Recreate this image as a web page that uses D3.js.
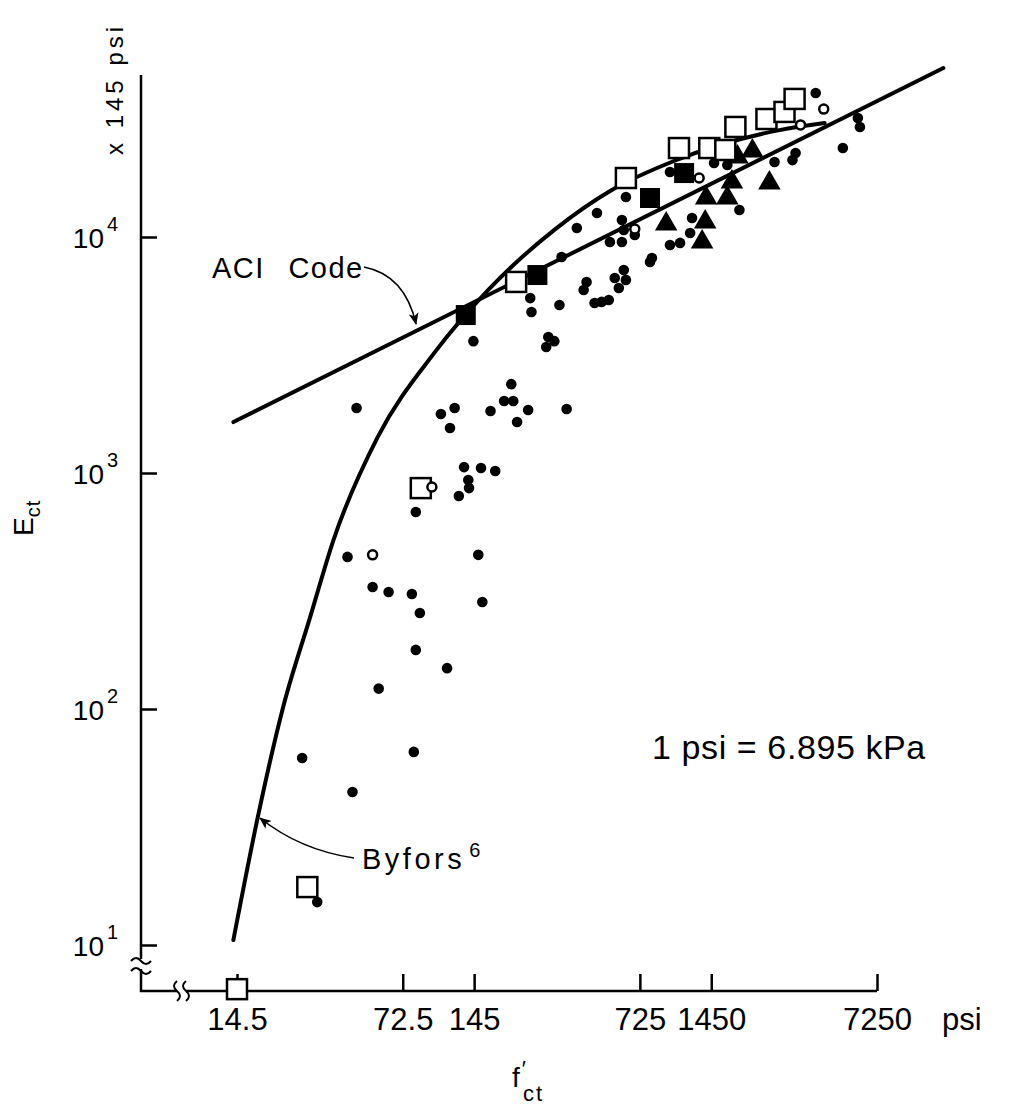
<!DOCTYPE html>
<html lang="en">
<head>
  <meta charset="UTF-8">
  <title>Ect vs f'ct</title>
  <style>
    html, body {
      margin: 0;
      padding: 0;
      background-color: #fff;
    }

    svg {
      display: block;
      font-family: "Liberation Sans", Arial, sans-serif;
    }

    .curve {
      fill: none;
      stroke: #000;
      stroke-width: 4;
      stroke-linecap: round;
    }

    .axis-line {
      fill: none;
      stroke: #000;
      stroke-width: 2.5;
    }

    .break-mark {
      fill: none;
      stroke: #000;
      stroke-width: 2;
    }

    .tick line {
      stroke: #000;
      stroke-width: 2.5;
    }

    .leader {
      fill: none;
      stroke: #000;
      stroke-width: 1.6;
    }

    .open {
      fill: #fff;
      stroke: #000;
      stroke-width: 2.5;
    }
  </style>
</head>
<body>
  <script src="https://cdn.jsdelivr.net/npm/d3@7"></script>
  <script>
    const width = 1012,
          height = 1112

    // tick values, f'ct in psi and Ect in units of 145 psi
    const xTicks = [14.5, 72.5, 145, 725, 1450, 7250]
    const xTickLabels = ['14.5', '72.5', '145', '725', '1450', '7250']
    const yTicks = [10, 100, 1000, 10000]
    const yTickExponents = ['1', '2', '3', '4']

    // [f'ct, Ect]
    const filledDots = [
      [42.4, 441], [151, 450], [54.1, 329], [63.2, 313], [79.2, 307], [85.6, 255], [157, 284],
      [82.3, 178], [111.5, 149], [57.4, 122], [27.3, 62], [80.7, 65.8], [44.5, 44.5], [31.6, 15.2],
      [144, 3620], [298, 3770], [316, 3620], [292, 3420], [208, 2380], [194, 2020], [212, 2020],
      [46.3, 1885], [105, 1778], [120, 1885], [114.7, 1552], [170, 1832], [245, 1849], [220, 1644],
      [356, 1866], [131.5, 1059], [155, 1050], [178, 1019], [137, 933], [138, 863], [125, 799], [82.3, 684],
      [250, 5510], [253, 4810], [332, 5150], [339, 8230], [432, 6450], [420, 5960], [467, 5250],
      [500, 5310], [536, 5410], [568, 6700], [591, 6080], [542, 9530],
      [393, 10910], [478, 12640], [633, 14770], [609, 11810], [620, 10700], [690, 10190], [609, 9530],
      [800, 7830], [620, 7250], [633, 6580],
      [971, 9250], [1071, 9440], [1181, 10400], [1203, 12040], [815, 8150], [1906, 13010],
      [3998, 40740], [5203, 23820], [6143, 29260], [6020, 31940], [3288, 22700], [3190, 21180],
      [1490, 20590], [1695, 20180], [971, 18860], [2680, 20790]
    ]

    const openSquares = [
      [14.5, 6.5], [28.7, 17.6], [86.4, 863], [218, 6450], [633, 17780], [1060, 23820],
      [1422, 23820], [1662, 23370], [1833, 29260], [2478, 31620], [2953, 33880], [3257, 38460]
    ]

    const filledSquares = [[133.7, 4670], [268, 6900], [800, 14630], [1114, 18660]]

    const openCircles = [[54.1, 450], [96.2, 872], [1289, 17780], [4322, 34840], [3450, 29850], [690, 10800]]

    const triangles = [
      [936, 11350], [1380, 14630], [1695, 14630], [1367, 11580], [1327, 9530],
      [1772, 17100], [1870, 21830], [2163, 23150], [2550, 16940]
    ]

    const aciCode = [[14.0, 1644], [13810, 52000]]

    const byfors = [
      [14.0, 10.5], [17.9, 36.3], [22.7, 102], [29.5, 245], [37.0, 520], [56.9, 1422],
      [98.3, 3222], [166, 5957], [316, 10720], [552, 15820], [1010, 20990], [2814, 28380], [4360, 30410]
    ]

    const x = d3.scaleLog().domain([14.5, 7250]).range([237, 877])
    const y = d3.scaleLog().domain([10, 10000]).range([945, 237])

    const axisX = 141,   // where the y axis stands
          axisY = 991,   // where the x axis lies
          yTop = 75,
          xRight = 877

    const svg = d3.select('body')
      .append('svg')
      .attr('width', width)
      .attr('height', height)

    svg.append('defs')
      .append('marker')
        .attr('id', 'head')
        .attr('viewBox', '0 0 12 10')
        .attr('refX', 11)
        .attr('refY', 5)
        .attr('markerWidth', 12)
        .attr('markerHeight', 10)
        .attr('markerUnits', 'userSpaceOnUse')
        .attr('orient', 'auto')
      .append('path')
        .attr('d', 'M0,0 L12,5 L0,10 L3,5 Z')
        .attr('fill', '#000')

    // axes with breaks near the origin
    const axes = svg.append('g')
    axes.append('path').attr('class', 'axis-line')
      .attr('d', `M${axisX},${yTop} V959 M${axisX},969 V${axisY} H177 M186,${axisY} H${xRight}`)
    axes.append('path').attr('class', 'break-mark')
      .attr('d', 'M131,961 q5,-6 10,0 t10,0 M131,971 q5,-6 10,0 t10,0')
    axes.append('path').attr('class', 'break-mark')
      .attr('d', `M177,981 q-6,5 0,10 t0,10 M186,981 q-6,5 0,10 t0,10`)

    const xAxisG = svg.append('g')
      .attr('transform', `translate(0,${axisY})`)
      .call(d3.axisBottom(x).tickValues(xTicks).tickSize(-17).tickFormat((d, i) => xTickLabels[i]))
      .call(g => g.select('.domain').remove())
      .attr('font-family', null)
      .attr('font-size', null)

    xAxisG.selectAll('text')
      .attr('y', 39)
      .attr('dy', null)
      .attr('font-size', 31)
      .attr('fill', '#000')

    svg.append('g')
      .attr('transform', `translate(${axisX},0)`)
      .call(d3.axisLeft(y).tickValues(yTicks).tickSize(-16).tickFormat(''))
      .call(g => g.select('.domain').remove())

    const yLabels = svg.append('g')
      .selectAll('g')
      .data(yTicks)
      .enter()
        .append('g')
        .attr('transform', d => `translate(0,${y(d)})`)

    yLabels.append('text')
      .attr('x', 104)
      .attr('y', 11)
      .attr('text-anchor', 'end')
      .attr('font-size', 28)
      .text('10')

    yLabels.append('text')
      .attr('x', 107)
      .attr('y', -6)
      .attr('font-size', 20)
      .text((d, i) => yTickExponents[i])

    // curves
    const line = d3.line().x(d => x(d[0])).y(d => y(d[1]))

    svg.append('path')
      .attr('class', 'curve')
      .attr('d', line(aciCode))

    svg.append('path')
      .attr('class', 'curve')
      .attr('d', line.curve(d3.curveMonotoneX)(byfors))

    // markers
    svg.append('g')
      .selectAll('circle')
      .data(filledDots)
      .enter()
        .append('circle')
        .attr('cx', d => x(d[0]))
        .attr('cy', d => y(d[1]))
        .attr('r', 5.3)

    svg.append('g')
      .selectAll('path')
      .data(triangles)
      .enter()
        .append('path')
        .attr('transform', d => `translate(${x(d[0])},${y(d[1])})`)
        .attr('d', d3.symbol(d3.symbolTriangle, 220))

    svg.append('g')
      .selectAll('rect')
      .data(filledSquares)
      .enter()
        .append('rect')
        .attr('x', d => x(d[0]) - 10)
        .attr('y', d => y(d[1]) - 10)
        .attr('width', 20)
        .attr('height', 20)

    svg.append('g')
      .selectAll('rect')
      .data(openSquares)
      .enter()
        .append('rect')
        .attr('class', 'open')
        .attr('x', d => x(d[0]) - 10)
        .attr('y', d => y(d[1]) - 10)
        .attr('width', 20)
        .attr('height', 20)

    svg.append('g')
      .selectAll('circle')
      .data(openCircles)
      .enter()
        .append('circle')
        .attr('class', 'open')
        .attr('stroke-width', 2)
        .attr('cx', d => x(d[0]))
        .attr('cy', d => y(d[1]))
        .attr('r', 4.5)

    // labels and notes
    svg.append('text')
      .attr('x', 212)
      .attr('y', 278)
      .attr('font-size', 29)
      .attr('letter-spacing', 1.5)
      .attr('word-spacing', 14)
      .text('ACI Code')

    svg.append('path')
      .attr('class', 'leader')
      .attr('d', 'M364,267 Q405,275 416,324')
      .attr('marker-end', 'url(#head)')

    const byforsLabel = svg.append('text')
      .attr('x', 362)
      .attr('y', 869)
      .attr('font-size', 29)
      .attr('letter-spacing', 3.5)
      .text('Byfors')
    byforsLabel.append('tspan')
      .attr('font-size', 20)
      .attr('dx', 4)
      .attr('dy', -12)
      .text('6')

    svg.append('path')
      .attr('class', 'leader')
      .attr('d', 'M354,858 Q300,850 260,818')
      .attr('marker-end', 'url(#head)')

    svg.append('text')
      .attr('x', 652)
      .attr('y', 759)
      .attr('font-size', 34)
      .attr('letter-spacing', 0.6)
      .text('1 psi = 6.895 kPa')

    svg.append('text')
      .attr('x', 942)
      .attr('y', 1030)
      .attr('font-size', 31)
      .text('psi')

    svg.append('text')
      .attr('transform', 'translate(123,155) rotate(-90)')
      .attr('font-size', 24)
      .attr('letter-spacing', 4)
      .text('x 145 psi')

    const yTitle = svg.append('text')
      .attr('transform', 'translate(33,536) rotate(-90)')
      .attr('font-size', 28)
      .text('E')
    yTitle.append('tspan')
      .attr('font-size', 20)
      .attr('dy', 7)
      .attr('letter-spacing', 1)
      .text('ct')

    // f'ct as one text: f, prime above, ct below
    const xTitle = svg.append('text')
      .attr('x', 512)
      .attr('y', 1087)
      .attr('font-size', 28)
      .text('f')
    xTitle.append('tspan')
      .attr('font-size', 22)
      .attr('dx', 2)
      .attr('dy', -11)
      .text('′')
    xTitle.append('tspan')
      .attr('font-size', 22)
      .attr('x', 523)
      .attr('y', 1101)
      .attr('letter-spacing', 2)
      .text('ct')
  </script>
</body>
</html>
